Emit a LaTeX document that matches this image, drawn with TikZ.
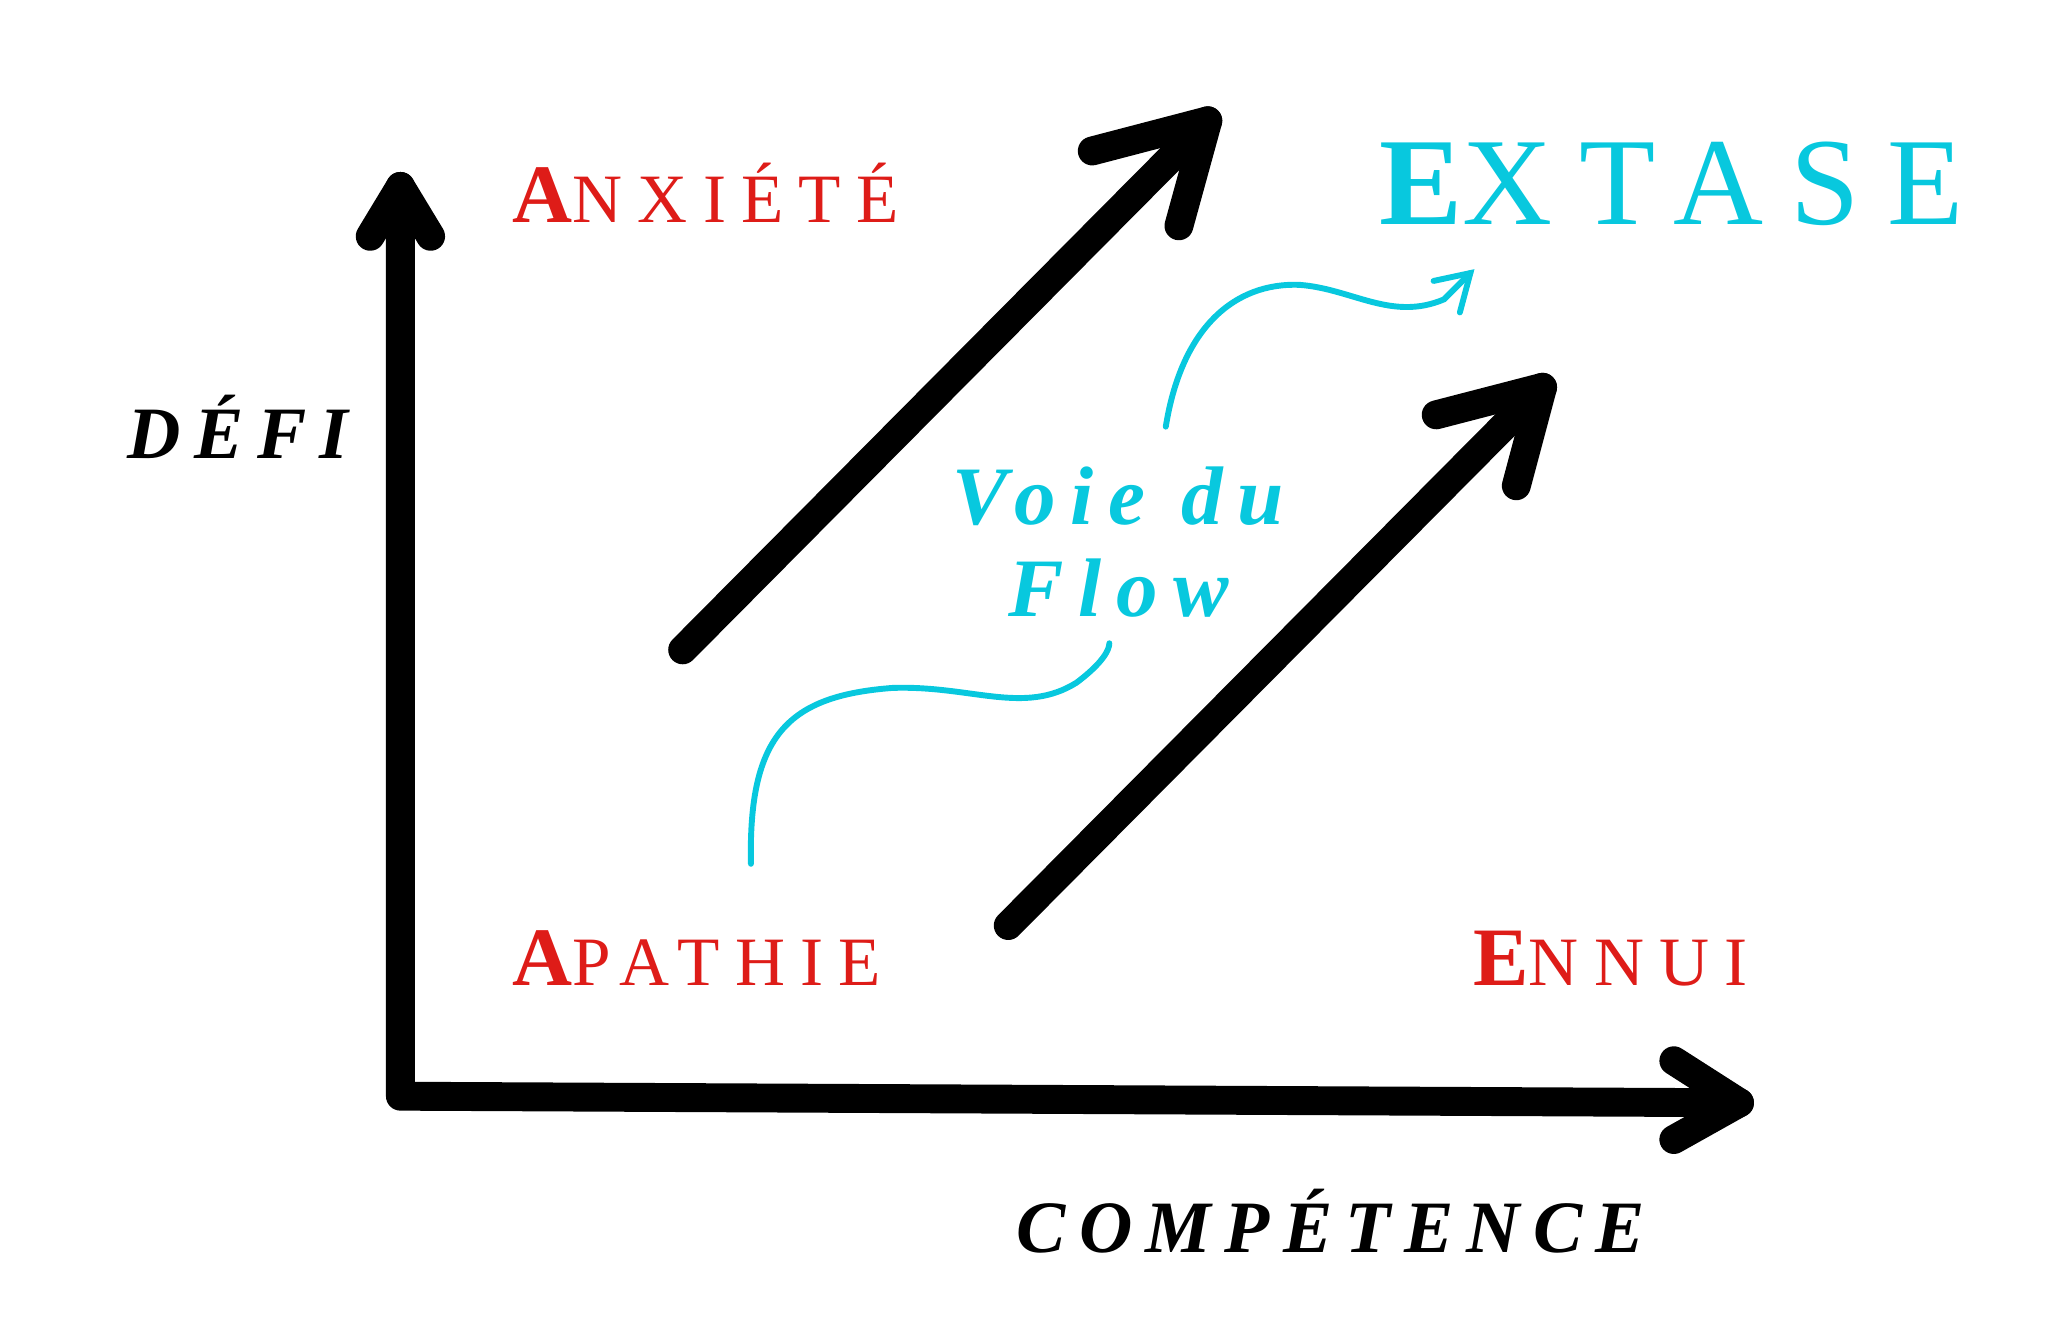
\documentclass[tikz,border=0pt]{standalone}
\usepackage{fontspec}
\setmainfont{Liberation Serif}
\newfontfamily\spaced[LetterSpace=22]{Liberation Serif}
\newfontfamily\spacedB[LetterSpace=18]{Liberation Serif}
\definecolor{redc}{RGB}{222,28,24}
\definecolor{cyanc}{RGB}{8,200,222}
\begin{document}
\begin{tikzpicture}[x=0.01cm,y=-0.01cm,
  thick line/.style={line width=0.22cm,line cap=round,line join=round,black},
  wave/.style={line width=0.045cm,cyanc,line cap=round},
  redlbl/.style={redc,font=\spaced\fontsize{15}{15}\selectfont,anchor=west},
  blklbl/.style={black,font=\spacedB\bfseries\itshape\fontsize{16}{16}\selectfont,anchor=west}]
\useasboundingbox (0,0) rectangle (1560,1016);
% axes
\coordinate (o) at (305,835);
\coordinate (ytip) at (305,142);
\coordinate (xtip) at (1325,840);
\draw[thick line] (ytip) -- (o) -- (xtip);
\draw[thick line] (282,180) -- (ytip) -- (328,180);
\draw[thick line] (1275,808) -- (xtip) -- (1275,868);
% diagonal arrows
\coordinate (a1s) at (520,495); \coordinate (a1e) at (920,92);
\draw[thick line] (a1s) -- (a1e);
\draw[thick line] (832,115) -- (a1e) -- (898,172);
\coordinate (a2s) at (768,705); \coordinate (a2e) at (1175,295);
\draw[thick line] (a2s) -- (a2e);
\draw[thick line] (1094,316) -- (a2e) -- (1155,370);
% waves
\coordinate (w1s) at (572,658); \coordinate (w1e) at (845,490);
\draw[wave] (w1s) .. controls (570,560) and (600,530) .. (680,524)
  .. controls (740,522) and (780,545) .. (820,520) .. controls (840,505) and (845,495) .. (w1e);
\coordinate (w2s) at (888,325); \coordinate (w2e) at (1120,208);
\draw[wave] (w2s) .. controls (900,250) and (940,215) .. (990,217)
  .. controls (1030,220) and (1060,245) .. (1100,228) -- (w2e);
\draw[wave] (1092,214) -- (w2e) -- (1112,238);
% labels
\node[redlbl] (anx) at (378,147) {{\bfseries\fontsize{18}{18}\selectfont A}NXIÉTÉ};
\node[redlbl] (apa) at (378,730) {{\bfseries\fontsize{18}{18}\selectfont A}PATHIE};
\node[redlbl] (enn) at (1110,730) {{\bfseries\fontsize{18}{18}\selectfont E}NNUI};
\node[cyanc,anchor=west,font=\spaced\fontsize{27}{27}\selectfont] (ext) at (1038,140) {{\bfseries E}XTASE};
\node[blklbl] (defi) at (85,325) {DÉFI};
\node[blklbl] (comp) at (762,930) {COMPÉTENCE};
\node[cyanc,font=\spacedB\bfseries\itshape\fontsize{18}{18}\selectfont,align=center] (flow) at (852,413) {Voie du\\[2pt]Flow};
\end{tikzpicture}
\end{document}
